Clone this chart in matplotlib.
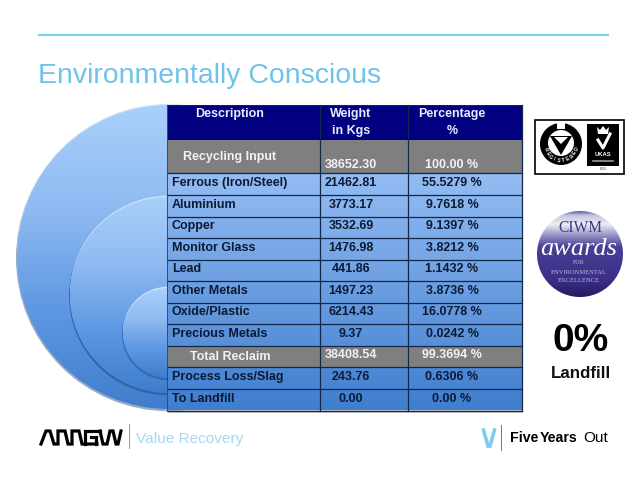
import numpy as np
import matplotlib
matplotlib.use('Agg')
import matplotlib.pyplot as plt
from matplotlib.patches import Circle, Rectangle, Polygon
from matplotlib.colors import LinearSegmentedColormap

plt.rcParams['font.family'] = ['Liberation Sans', 'DejaVu Sans']

# table contents
descriptions = ['Recycling Input', 'Ferrous (Iron/Steel)', 'Aluminium', 'Copper', 'Monitor Glass', 'Lead',
                'Other Metals', 'Oxide/Plastic', 'Precious Metals', 'Total Reclaim', 'Process Loss/Slag', 'To Landfill']
weights = ['38652.30', '21462.81', '3773.17', '3532.69', '1476.98', '441.86',
           '1497.23', '6214.43', '9.37', '38408.54', '243.76', '0.00']
percents = ['100.00 %', '55.5279 %', '9.7618 %', '9.1397 %', '3.8212 %', '1.1432 %',
            '3.8736 %', '16.0778 %', '0.0242 %', '99.3694 %', '0.6306 %', '0.00 %']
grey_rows = ['Recycling Input', 'Total Reclaim']

#layout, in pixels
W, H = 638, 478
row_edges = [140, 173, 195, 216.5, 238, 259.5, 281, 302.5, 324, 345.5, 367, 388.5, 410.5]
col_edges = [167, 320, 408, 522]
TOP = 105

fig = plt.figure(figsize=(W/100, H/100), dpi=100)
ax = fig.add_axes([0, 0, 1, 1])
ax.set_xlim(0, W)
ax.set_ylim(H, 0)
ax.axis('off')

blue_circle = LinearSegmentedColormap.from_list('c', ['#a9d0fa', '#8fbbf2', '#5f98e2', '#3f7dcc'])
blue_rows = LinearSegmentedColormap.from_list('r', ['#95bdf3', '#3f7ecf'])
badge_cmap = LinearSegmentedColormap.from_list('b', [(0, '#4a4490'), (0.06, '#c4c6e0'), (0.16, '#eceef5'), (0.3, '#8c8abf'),
                                                     (0.42, '#4a3f96'), (0.8, '#3a2e88'), (1, '#241a5c')])
grad = np.linspace(0, 1, 256).reshape(-1, 1)


def GradCircle(cx, cy, r, shadow, rim, level):
	ax.add_patch(Circle((cx, cy+1.2), r+1, fc=shadow, ec='none', alpha=0.8, zorder=level))
	ax.add_patch(Circle((cx, cy-1.2), r, fc=rim, ec='none', zorder=level+0.01))
	im = ax.imshow(grad, cmap=blue_circle, extent=[cx-r, cx+r, cy+r, cy-r], aspect='auto', zorder=level+0.02)
	im.set_clip_path(Circle((cx, cy), r, transform=ax.transData))


# header line and title
ax.plot([39, 608], [35, 35], color='#7ed3f2', lw=1.6)
ax.text(38, 76, 'Environmentally Conscious', fontsize=20.4, color='#6fc2ea', va='center', ha='left')

# nested circles
GradCircle(169, 257, 152, '#7f96b5', '#d5e6f2', 1.0)
GradCircle(168, 295, 98, '#2a5c9c', '#cfe3f7', 1.1)
GradCircle(168, 333, 45, '#2f64a6', '#d5e6f7', 1.2)

# table body
ax.add_patch(Rectangle((col_edges[0]+1, TOP+2), col_edges[3]-col_edges[0], row_edges[-1]-TOP, fc='#a8a8a8', ec='none', alpha=0.6, zorder=1.5))
ax.imshow(grad, cmap=blue_rows, extent=[col_edges[0], col_edges[3], row_edges[-1], row_edges[1]], aspect='auto', zorder=2)
ax.add_patch(Rectangle((col_edges[0], TOP), col_edges[3]-col_edges[0], row_edges[0]-TOP, fc='#000080', ec='none', zorder=2))

line_col = '#12284a'
for i, d in enumerate(descriptions):
	y0, y1 = row_edges[i], row_edges[i+1]
	grey = d in grey_rows
	if grey:
		ax.add_patch(Rectangle((col_edges[0], y0), col_edges[3]-col_edges[0], y1-y0, fc='#7f7f7f', ec='none', zorder=2.1))
	ax.plot([col_edges[0], col_edges[3]], [y1, y1], color=line_col, lw=0.9, zorder=3)
	if i == 0:
		ty, wy = y0+17, y1-8
	elif grey:
		ty, wy = (y0+y1)/2+0.5, (y0+y1)/2-1.5
	else:
		ty, wy = (y0+y1)/2-1, (y0+y1)/2-1
	if grey:
		ax.text(230, ty, d, fontsize=9, fontweight='bold', color='#f2f2f2', ha='center', va='center', zorder=4)
		tc = '#f2f2f2'
	else:
		ax.text(172, ty, d, fontsize=9, fontweight='bold', color='#0c1a33', ha='left', va='center', zorder=4)
		tc = '#0c1a33'
	ax.text(351, wy, weights[i], fontsize=9, fontweight='bold', color=tc, ha='center', va='center', zorder=4)
	ax.text(452, wy, percents[i], fontsize=9, fontweight='bold', color=tc, ha='center', va='center', zorder=4)

for x in col_edges[1:]:
	ax.plot([x, x], [TOP, row_edges[-1]], color=line_col, lw=0.9, zorder=3)
ax.plot([col_edges[0], col_edges[0]], [TOP, row_edges[-1]], color='#3a4a66', lw=0.7, zorder=3)
ax.plot([col_edges[0], col_edges[3]], [TOP, TOP], color=line_col, lw=0.7, zorder=3)

ax.text(230, 114, 'Description', fontsize=9, fontweight='bold', color='#e8ecff', ha='center', va='center', zorder=4)
ax.text(351, 114, 'Weight', fontsize=9, fontweight='bold', color='#e8ecff', ha='center', va='center', zorder=4)
ax.text(351, 131, 'in Kgs', fontsize=9, fontweight='bold', color='#e8ecff', ha='center', va='center', zorder=4)
ax.text(452, 114, 'Percentage', fontsize=9, fontweight='bold', color='#e8ecff', ha='center', va='center', zorder=4)
ax.text(452, 131, '%', fontsize=9, fontweight='bold', color='#e8ecff', ha='center', va='center', zorder=4)

# registered logo
ax.add_patch(Rectangle((534.5, 119.5), 89, 54, fc='white', ec='black', lw=1.2, zorder=2))
ax.add_patch(Circle((561, 144), 21, fc='black', ec='none', zorder=3))
ax.add_patch(Circle((561, 143), 13, fc='white', ec='none', zorder=3.1))
ax.add_patch(Polygon([[550, 136], [572, 136], [561, 155]], fc='black', ec='none', zorder=3.2))
ax.add_patch(Polygon([[554, 137], [568, 137], [561, 144]], fc='white', ec='none', zorder=3.3))
ax.add_patch(Rectangle((557, 123), 8, 6, fc='white', ec='none', zorder=3.3))
label = 'REGISTERED'
for i, ch in enumerate(label):
	ang = -72 + 144*i/(len(label)-1)
	a = np.radians(ang)
	ax.text(561+16.5*np.sin(a), 144+16.5*np.cos(a), ch, rotation=ang, fontsize=3.6, color='white', fontweight='bold', ha='center', va='center', zorder=4)
ax.add_patch(Rectangle((587, 124), 32, 42, fc='black', ec='none', zorder=3))
ax.add_patch(Polygon([[598, 134], [597, 127], [600, 130], [603, 126], [606, 130], [609, 127], [608, 134]], fc='white', ec='none', zorder=4))
ax.plot([598, 603, 610], [140, 148, 134], color='white', lw=2.2, zorder=4)
ax.text(603, 154, 'UKAS', fontsize=4.2, color='white', fontweight='bold', ha='center', va='center', zorder=4)
ax.plot([593, 613], [161, 161], color='#999999', lw=1.2, zorder=4)
ax.text(603, 169.5, '003', fontsize=3, color='#333333', ha='center', va='center', zorder=4)

# awards badge
ax.imshow(grad, cmap=badge_cmap, extent=[537, 623, 298, 210], aspect='auto', zorder=2).set_clip_path(Circle((580, 254), 43, transform=ax.transData))
ax.text(580, 228, 'CIWM', fontsize=11.2, family='Liberation Serif', color='#3d3a85', ha='center', va='center', zorder=4)
ax.text(579, 249, 'awards', fontsize=19, family='Liberation Serif', style='italic', color='white', ha='center', va='center', zorder=4)
ax.text(579, 263, 'FOR', fontsize=4.4, family='Liberation Serif', color='#b8b8d8', ha='center', va='center', zorder=4)
ax.text(579, 272, 'ENVIRONMENTAL', fontsize=4.7, family='Liberation Serif', color='#b8b8d8', ha='center', va='center', zorder=4)
ax.text(579, 281, 'EXCELLENCE', fontsize=4.7, family='Liberation Serif', color='#b8b8d8', ha='center', va='center', zorder=4)

# 0% landfill
ax.text(581, 341, '0%', fontsize=28, fontweight='bold', color='black', ha='center', va='center')
ax.text(581, 373, 'Landfill', fontsize=12.2, fontweight='bold', color='#111111', ha='center', va='center')

# footer
logo_x = [41, 46, 50, 54, 58, 58, 65, 68, 72, 72, 79, 82, 97]
logo_y = [444, 431, 431, 444, 444, 431, 431, 444, 444, 431, 431, 444, 444]
ax.plot(logo_x, logo_y, color='black', lw=2.3, solid_joinstyle='miter')
ax.plot([85, 85, 100], [444, 431, 431], color='black', lw=2.3, solid_joinstyle='miter')
ax.plot([91, 96, 96], [437, 437, 444], color='black', lw=2.3, solid_joinstyle='miter')
ax.plot([100, 103, 107, 110, 113, 116, 118, 121], [431, 444, 444, 431, 431, 444, 444, 431], color='black', lw=2.3, solid_joinstyle='miter')
ax.plot([129, 129], [424, 448], color='#9a9a9a', lw=0.7)
ax.text(136, 438.5, 'Value Recovery', fontsize=11.1, color='#a5d8ee', ha='left', va='center')
ax.plot([483.5, 488], [430, 446], color='#7fcdee', lw=2.6)
ax.plot([494.5, 490], [430, 446], color='#7fcdee', lw=2.6)
ax.plot([501, 501], [425, 450], color='#777777', lw=0.7)
ax.text(510, 438.5, 'Five', fontsize=10.2, fontweight='bold', color='black', ha='left', va='center')
ax.text(540, 438.5, 'Years', fontsize=10.2, fontweight='bold', color='black', ha='left', va='center')
ax.text(583, 438.5, 'Out', fontsize=11, color='black', ha='left', va='center')

ax.set_xlim(0, W)
ax.set_ylim(H, 0)
fig.savefig('out.png', dpi=100)
